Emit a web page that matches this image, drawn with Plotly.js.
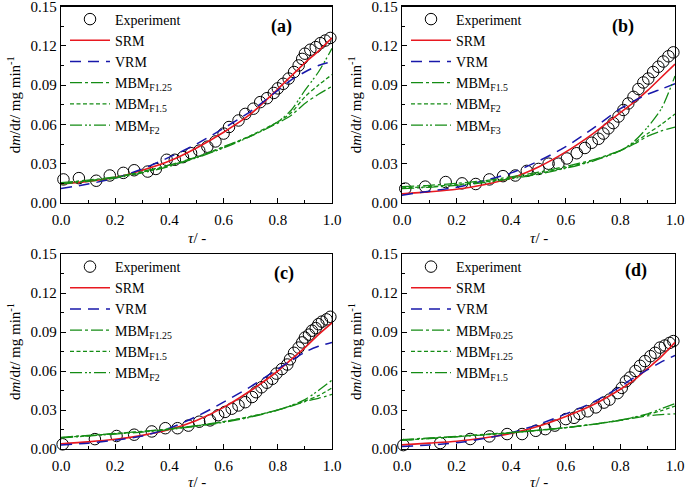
<!DOCTYPE html>
<html><head><meta charset="utf-8">
<script src="https://cdn.plot.ly/plotly-3.0.1.min.js"></script>
<style>html,body{margin:0;padding:0;background:#fff}#chart{width:685px;height:491px}</style>
</head><body><div id="chart"></div>
<script>
// ---------- data ----------
const tauModel = [0,0.1,0.2,0.3,0.4,0.5,0.6,0.7,0.8,0.85,0.9,0.95,1.0];
const xTicks = [0,0.2,0.4,0.6,0.8,1.0];
const yTicks = [0,0.03,0.06,0.09,0.12,0.15];
const xTitle = '<i>τ</i>/ -';
const yTitle = 'd<i>m</i>/d<i>t</i>/ mg min<sup>-1</sup>';

// panel (a)
const expTauA = [0.009,0.066,0.13,0.18,0.23,0.27,0.32,0.35,0.39,0.42,0.45,0.48,0.51,0.54,0.57,0.60,0.62,0.655,0.68,0.71,0.735,0.76,0.785,0.80,0.82,0.84,0.86,0.877,0.89,0.90,0.92,0.94,0.957,0.975,0.994];
const expA = [0.018,0.019,0.017,0.021,0.023,0.025,0.024,0.026,0.033,0.033,0.035,0.038,0.040,0.043,0.047,0.053,0.058,0.063,0.068,0.072,0.077,0.080,0.084,0.0875,0.091,0.095,0.100,0.105,0.110,0.114,0.117,0.119,0.122,0.124,0.126];
const srmA = [0.0145,0.0165,0.0195,0.025,0.032,0.042,0.054,0.068,0.087,0.097,0.107,0.116,0.126];
const vrmA = [0.011,0.0145,0.019,0.026,0.035,0.045,0.057,0.070,0.086,0.094,0.100,0.105,0.108];
const mbmA1 = [0.0155,0.0175,0.020,0.024,0.029,0.035,0.043,0.051,0.061,0.067,0.076,0.083,0.089];
const mbmA2 = [0.015,0.017,0.0195,0.0235,0.0285,0.035,0.0425,0.0515,0.062,0.069,0.081,0.090,0.098];
const mbmA3 = [0.0145,0.0165,0.019,0.023,0.028,0.0345,0.042,0.051,0.062,0.071,0.086,0.100,0.118];
const mbmNamesA = ['MBM<sub>F1.25</sub>','MBM<sub>F1.5</sub>','MBM<sub>F2</sub>'];

// panel (b)
const expTauB = [0.012,0.085,0.16,0.22,0.27,0.32,0.37,0.415,0.457,0.50,0.537,0.573,0.604,0.64,0.67,0.695,0.72,0.738,0.756,0.774,0.793,0.811,0.829,0.848,0.866,0.884,0.902,0.92,0.939,0.957,0.976,0.994];
const expB = [0.011,0.0125,0.016,0.015,0.0145,0.018,0.0205,0.021,0.0245,0.026,0.030,0.030,0.034,0.038,0.042,0.046,0.049,0.053,0.057,0.061,0.066,0.071,0.076,0.081,0.087,0.092,0.095,0.100,0.104,0.108,0.112,0.115];
const srmB = [0.007,0.0085,0.0105,0.014,0.019,0.0275,0.039,0.053,0.069,0.077,0.086,0.096,0.106];
const vrmB = [0.006,0.009,0.012,0.017,0.023,0.032,0.043,0.057,0.072,0.078,0.083,0.087,0.091];
const mbmB1 = [0.0125,0.0135,0.015,0.017,0.020,0.0235,0.028,0.033,0.040,0.045,0.051,0.055,0.058];
const mbmB2 = [0.0115,0.0125,0.014,0.016,0.019,0.0225,0.027,0.0325,0.040,0.046,0.053,0.060,0.068];
const mbmB3 = [0.011,0.012,0.0135,0.0155,0.0185,0.022,0.0265,0.032,0.040,0.047,0.058,0.072,0.097];
const mbmNamesB = ['MBM<sub>F1.5</sub>','MBM<sub>F2</sub>','MBM<sub>F3</sub>'];

// panel (c)
const expTauC = [0.006,0.125,0.205,0.27,0.335,0.385,0.43,0.47,0.51,0.55,0.58,0.605,0.63,0.655,0.68,0.705,0.72,0.74,0.76,0.78,0.795,0.815,0.835,0.845,0.86,0.877,0.89,0.90,0.915,0.926,0.94,0.95,0.963,0.98,0.994];
const expC = [0.0036,0.0076,0.010,0.011,0.0135,0.016,0.016,0.018,0.021,0.022,0.026,0.0285,0.031,0.0335,0.036,0.040,0.0437,0.0475,0.051,0.054,0.058,0.0615,0.065,0.069,0.074,0.078,0.082,0.0857,0.088,0.091,0.093,0.096,0.098,0.0997,0.1017];
const srmC = [0.004,0.0055,0.0075,0.0105,0.015,0.022,0.032,0.045,0.060,0.069,0.078,0.088,0.097];
const vrmC = [0.003,0.0045,0.0068,0.010,0.016,0.025,0.036,0.048,0.0615,0.068,0.0745,0.079,0.082];
const mbmC1 = [0.009,0.0105,0.012,0.0135,0.0155,0.018,0.021,0.025,0.030,0.033,0.0365,0.039,0.042];
const mbmC2 = [0.0088,0.0102,0.0118,0.0133,0.0153,0.0178,0.021,0.025,0.030,0.0333,0.037,0.041,0.047];
const mbmC3 = [0.0085,0.010,0.0115,0.013,0.015,0.0175,0.0205,0.0245,0.030,0.0335,0.038,0.045,0.053];
const mbmNamesC = ['MBM<sub>F1.25</sub>','MBM<sub>F1.5</sub>','MBM<sub>F2</sub>'];

// panel (d)
const expTauD = [0.005,0.14,0.25,0.32,0.385,0.44,0.49,0.525,0.56,0.60,0.63,0.65,0.68,0.71,0.74,0.76,0.79,0.805,0.82,0.835,0.855,0.872,0.89,0.91,0.927,0.945,0.963,0.98,0.994];
const expD = [0.003,0.0046,0.0077,0.0097,0.0115,0.0115,0.014,0.0153,0.018,0.023,0.024,0.027,0.029,0.032,0.0357,0.038,0.043,0.047,0.052,0.055,0.060,0.064,0.0676,0.0714,0.074,0.078,0.0796,0.0816,0.083];
const srmD = [0.0032,0.0045,0.006,0.0085,0.012,0.0175,0.025,0.034,0.046,0.053,0.062,0.071,0.082];
const vrmD = [0.002,0.003,0.0048,0.008,0.0125,0.019,0.027,0.036,0.048,0.055,0.061,0.067,0.072];
const mbmD1 = [0.0072,0.0085,0.0098,0.0112,0.0127,0.0145,0.0165,0.019,0.022,0.0238,0.0255,0.0265,0.027];
const mbmD2 = [0.0068,0.0081,0.0095,0.011,0.0125,0.0144,0.0165,0.019,0.0222,0.0243,0.0265,0.0295,0.033];
const mbmD3 = [0.0066,0.008,0.0094,0.0109,0.0124,0.0143,0.0164,0.019,0.0223,0.0245,0.027,0.031,0.035];
const mbmNamesD = ['MBM<sub>F0.25</sub>','MBM<sub>F1.25</sub>','MBM<sub>F1.5</sub>'];

const panelLabels = ['(a)','(b)','(c)','(d)'];

// ---------- styles ----------
const FONT = 'Liberation Serif';
const RED = 'rgb(232,24,32)', BLUE = 'rgb(24,24,170)', GREEN = 'rgb(20,140,20)';
const greenDash = ['12px,3px,3px,3px','4px,2.5px','12px,3px,2px,2px,2px,3px'];

const panels = [
  {tauE: expTauA, exp: expA, srm: srmA, vrm: vrmA, mbm: [mbmA1,mbmA2,mbmA3], names: mbmNamesA},
  {tauE: expTauB, exp: expB, srm: srmB, vrm: vrmB, mbm: [mbmB1,mbmB2,mbmB3], names: mbmNamesB},
  {tauE: expTauC, exp: expC, srm: srmC, vrm: vrmC, mbm: [mbmC1,mbmC2,mbmC3], names: mbmNamesC},
  {tauE: expTauD, exp: expD, srm: srmD, vrm: vrmD, mbm: [mbmD1,mbmD2,mbmD3], names: mbmNamesD}
];

const traces = [];
panels.forEach((p, i) => {
  const xa = i === 0 ? 'x' : 'x' + (i+1);
  const ya = i === 0 ? 'y' : 'y' + (i+1);
  const lg = i === 0 ? 'legend' : 'legend' + (i+1);
  traces.push({x: p.tauE, y: p.exp, xaxis: xa, yaxis: ya, legend: lg, name: 'Experiment',
    type: 'scatter', mode: 'markers', cliponaxis: false,
    marker: {symbol: 'circle-open', size: 11.5, color: '#000', line: {width: 1, color: '#000'}}});
  traces.push({x: tauModel, y: p.srm, xaxis: xa, yaxis: ya, legend: lg, name: 'SRM',
    type: 'scatter', mode: 'lines', line: {color: RED, width: 1.6, shape: 'spline', smoothing: 0.8}});
  traces.push({x: tauModel, y: p.vrm, xaxis: xa, yaxis: ya, legend: lg, name: 'VRM',
    type: 'scatter', mode: 'lines', line: {color: BLUE, width: 1.5, dash: '11px,7px', shape: 'spline', smoothing: 0.8}});
  p.mbm.forEach((m, k) => {
    traces.push({x: tauModel, y: m, xaxis: xa, yaxis: ya, legend: lg, name: p.names[k],
      type: 'scatter', mode: 'lines', line: {color: GREEN, width: 1.3, dash: greenDash[k], shape: 'spline', smoothing: 0.8}});
  });
});

// ---------- layout ----------
const W = 685, H = 491;
const fx = v => v / W, fy = v => 1 - v / H;
const colX = [[61, 332], [402, 675]];
const rowY = [[6.5, 203], [254, 449]];

function xAxis(col, row, anchor) {
  return {anchor: anchor, domain: [fx(colX[col][0]), fx(colX[col][1])], range: [0, 1], tickvals: xTicks, tickformat: '.1f',
    showline: true, linecolor: '#000', linewidth: 1.2, mirror: true, ticks: 'inside', ticklen: 5, tickwidth: 1, tickcolor: '#000',
    minor: {ticks: 'inside', ticklen: 3, dtick: 0.1, tick0: 0, tickcolor: '#000', tickwidth: 1},
    showgrid: false, zeroline: false, tickfont: {family: FONT, size: 15, color: '#000'}, ticklabeloverflow: 'allow',
    ticklabelstandoff: 3};
}
function yAxis(col, row, anchor) {
  return {anchor: anchor, domain: [fy(rowY[row][1]), fy(rowY[row][0])], range: [0, 0.15], tickvals: yTicks, tickformat: '.2f',
    showline: true, linecolor: '#000', linewidth: 1.2, mirror: true, ticks: 'inside', ticklen: 5, tickwidth: 1, tickcolor: '#000',
    minor: {ticks: 'inside', ticklen: 3, dtick: 0.015, tick0: 0, tickcolor: '#000', tickwidth: 1},
    showgrid: false, zeroline: false, tickfont: {family: FONT, size: 15, color: '#000'}, ticklabeloverflow: 'allow',
    title: {text: yTitle, font: {family: FONT, size: 15, color: '#000'}, standoff: 6}};
}
function legendAt(col, row) {
  return {x: fx(colX[col][0] + 4), y: fy(rowY[row][0] - 3), xanchor: 'left', yanchor: 'top',
    bgcolor: 'rgba(0,0,0,0)', borderwidth: 0, itemwidth: 40, tracegroupgap: 0,
    font: {family: FONT, size: 14, color: '#000'}};
}

const labelPos = [[281, 27], [623, 27], [284, 273], [636, 270]];
const xTitlePos = [[197, 238], [539, 238], [197, 482], [539, 482]];
const annotations = panelLabels.map((t, i) => ({text: '<b>' + t + '</b>', xref: 'paper', yref: 'paper',
    x: fx(labelPos[i][0]), y: fy(labelPos[i][1]), xanchor: 'center', yanchor: 'middle', showarrow: false,
    font: {family: FONT, size: 18, color: '#000'}}));
xTitlePos.forEach(p => annotations.push({text: xTitle, xref: 'paper', yref: 'paper',
    x: fx(p[0]), y: fy(p[1]), xanchor: 'center', yanchor: 'middle', showarrow: false,
    font: {family: FONT, size: 15, color: '#000'}}));

const layout = {
  width: W, height: H, margin: {l: 0, r: 0, t: 0, b: 0},
  paper_bgcolor: '#fff', plot_bgcolor: '#fff', showlegend: true,
  font: {family: FONT, color: '#000'},
  xaxis: xAxis(0,0,'y'), yaxis: yAxis(0,0,'x'),
  xaxis2: xAxis(1,0,'y2'), yaxis2: yAxis(1,0,'x2'),
  xaxis3: xAxis(0,1,'y3'), yaxis3: yAxis(0,1,'x3'),
  xaxis4: xAxis(1,1,'y4'), yaxis4: yAxis(1,1,'x4'),
  legend: legendAt(0,0), legend2: legendAt(1,0), legend3: legendAt(0,1), legend4: legendAt(1,1),
  annotations: annotations
};

Plotly.newPlot('chart', traces, layout, {displayModeBar: false, staticPlot: true});
</script></body></html>
